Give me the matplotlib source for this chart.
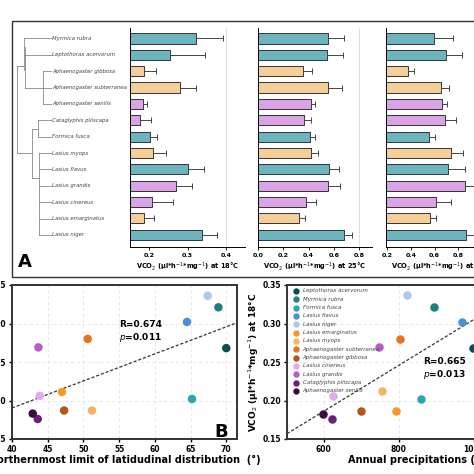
import numpy as np
import matplotlib.pyplot as plt
from matplotlib.patches import Rectangle

# ---- data ----
species = ["Myrmica rubra", "Leptothorax acervorum", "Aphaenogaster gibbosa",
           "Aphaenogaster subterranea", "Aphaenogaster senilis", "Cataglyphis piliscapa",
           "Formica fusca", "Lasius myops", "Lasius flavus", "Lasius grandis",
           "Lasius cinereus", "Lasius emarginatus", "Lasius niger"]
bar_group = ["t", "t", "o", "o", "p", "p", "t", "o", "t", "p", "p", "o", "t"]
v18 = [0.322, 0.254, 0.187, 0.280, 0.183, 0.175, 0.202, 0.210, 0.302, 0.270, 0.207, 0.187, 0.337]
e18 = [0.071, 0.092, 0.032, 0.043, 0.012, 0.031, 0.018, 0.034, 0.041, 0.041, 0.056, 0.026, 0.041]
v25 = [0.556, 0.543, 0.358, 0.551, 0.416, 0.363, 0.408, 0.416, 0.561, 0.556, 0.379, 0.326, 0.678]
e25 = [0.119, 0.125, 0.066, 0.111, 0.034, 0.053, 0.045, 0.061, 0.077, 0.093, 0.077, 0.048, 0.061]
v32 = [0.594, 0.693, 0.375, 0.650, 0.660, 0.690, 0.550, 0.738, 0.715, 0.856, 0.614, 0.560, 0.860]
e32 = [0.163, 0.138, 0.050, 0.070, 0.040, 0.087, 0.050, 0.102, 0.141, 0.071, 0.121, 0.054, 0.070]

sc_names = ["Leptothorax acervorum", "Myrmica rubra", "Formica fusca", "Lasius flavus",
            "Lasius niger", "Lasius emarginatus", "Lasius myops", "Aphaenogaster subterranea",
            "Aphaenogaster gibbosa", "Lasius cinereus", "Lasius grandis",
            "Cataglyphis piliscapa", "Aphaenogaster senilis"]
sc_colors = ["#0e4d4f", "#1f7f80", "#2aa7ae", "#4a90d9", "#a9c9ee", "#f39a2b", "#f4b563",
             "#e8731f", "#b3561a", "#e2a8ee", "#b65cc9", "#6b1e7f", "#3a0d3f"]
sc_vco2_b = [0.268, 0.321, 0.202, 0.302, 0.336, 0.211, 0.187, 0.280, 0.187, 0.206, 0.269, 0.176, 0.183]
latitude = [70.0, 68.9, 65.2, 64.5, 67.4, 47.0, 51.2, 50.6, 47.3, 43.9, 43.7, 43.6, 42.9]
sc_vco2_c = [0.268, 0.321, 0.202, 0.302, 0.337, 0.187, 0.212, 0.280, 0.187, 0.206, 0.269, 0.176, 0.183]
precip = [998, 895, 860, 969, 822, 793, 756, 804, 699, 625, 748, 622, 598]

bar_colors = {"t": "#6db5be", "o": "#f5cf98", "p": "#daa3e6"}
W = H = 474.0

fig = plt.figure(figsize=(4.74, 4.74), dpi=100)


def px_axes(x0, y0, x1, y1):
    return fig.add_axes([x0 / W, 1 - y1 / H, (x1 - x0) / W, (y1 - y0) / H])


# panel A frame
fig.patches.append(Rectangle((12 / W, 1 - 277 / H), 480 / W, 256 / H, transform=fig.transFigure,
                             fill=False, ec="#333333", lw=1.0))
fig.text(18 / W, 1 - 262 / H, "A", fontsize=13, fontweight="bold", va="center")

# tree + names
tax = px_axes(14, 28, 130, 244)
tax.set_xlim(0, 116)
tax.set_ylim(12.55, -0.64)
tax.axis("off")
lc = "#888888"
def hl(y, x0, x1): tax.plot([x0, x1], [y, y], color=lc, lw=0.6)
def vl(x, y0, y1): tax.plot([x, x], [y0, y1], color=lc, lw=0.6)
# myrmicinae clade
hl(0, 10, 37); hl(1, 10, 37); vl(10, 0, 1.9)
hl(2, 29, 37); hl(3, 29, 37); hl(4, 29, 37); vl(29, 2, 4)
hl(3, 11, 29); vl(11, 0.5, 3)
hl(1.7, 3, 11)
# formicinae clade
hl(5, 24, 37); hl(6, 24, 37); vl(24, 5, 6)
hl(5.5, 18, 24)
hl(7, 25, 37); hl(8, 25, 37); hl(9, 25, 37); hl(10, 25, 37); hl(11, 25, 37); hl(12, 25, 37)
vl(25, 7, 12)
hl(8.5, 18, 25); vl(18, 5.5, 8.5)
hl(7, 3, 18); vl(3, 1.7, 7)
for i, s in enumerate(species):
    tax.text(38, i, s, fontsize=3.9, style="italic", color="#444444", va="center")

ylab = "VCO$_2$ (µl*h$^{-1}$*mg$^{-1}$) at "
panels = [((130, 245), (0.15, 0.45), [0.2, 0.3, 0.4], v18, e18, "18°C", 0.4),
          ((258, 372), (0.0, 0.9), [0.0, 0.2, 0.4, 0.6, 0.8], v25, e25, "25°C", 0.8),
          ((386, 500), (0.19, 1.15), [0.2, 0.4, 0.6, 0.8], v32, e32, "32°C", 1.0)]
ypos = np.arange(len(species))
for (x0, x1), xl, ticks, vals, errs, temp, gx in panels:
    ax = px_axes(x0, 28, x1, 247)
    ax.axvline(gx, color="#dddddd", lw=0.7, zorder=0)
    ax.barh(ypos, np.array(vals) - xl[0], left=xl[0], height=0.62,
            color=[bar_colors[g] for g in bar_group], edgecolor="#333333", lw=0.7)
    ax.errorbar(vals, ypos, xerr=[np.zeros(len(vals)), errs], fmt="none",
                ecolor="#444444", elinewidth=0.7, capsize=2, capthick=0.7)
    ax.set_xlim(*xl)
    ax.set_ylim(12.75, -0.64)
    ax.set_yticks([])
    ax.set_xticks(ticks)
    ax.set_xticklabels([f"{t:.1f}" for t in ticks], fontsize=4.5, fontweight="bold")
    ax.tick_params(axis="x", length=2, width=0.6, pad=2)
    for s in ["top", "right"]:
        ax.spines[s].set_visible(False)
    ax.spines["left"].set_linewidth(0.7)
    ax.spines["bottom"].set_linewidth(0.7)
    ax.set_xlabel(ylab + temp, fontsize=4.8, fontweight="bold", labelpad=2)


def style_scatter(ax):
    ax.grid(True, ls=(0, (4, 3)), color="#e4e4e4", lw=0.6)
    ax.set_axisbelow(True)
    for s in ax.spines.values():
        s.set_linewidth(1.4)
        s.set_color("#333333")
    ax.tick_params(labelsize=5.5, width=1.0, length=2.5, pad=1.5)
    for lab in ax.get_xticklabels() + ax.get_yticklabels():
        lab.set_fontweight("bold")


# panel B
bx = px_axes(12, 285, 237, 439)
bx.scatter(latitude, sc_vco2_b, c=sc_colors, s=26, zorder=3)
k, b = np.polyfit(latitude, sc_vco2_b, 1)
xx = np.array([40, 72])
bx.plot(xx, k * xx + b, ls=(0, (2.5, 1.5)), color="#333333", lw=0.9)
bx.set_xlim(40, 71.5)
bx.set_ylim(0.15, 0.35)
bx.set_xticks(range(40, 75, 5))
bx.set_yticks([0.15, 0.20, 0.25, 0.30, 0.35])
bx.set_yticklabels(["0.15", "0.20", "0.25", "0.30", "0.35"])
style_scatter(bx)
bx.set_xlabel("Northernmost limit of latidudinal distribution  (°)", fontsize=7,
              fontweight="bold", labelpad=1)
bx.text(55, 0.279, "R=0.674\n$\\bf{\\it{p}}$=0.011", fontsize=6.5, fontweight="bold", linespacing=1.2)
bx.text(68.3, 0.153, "B", fontsize=13, fontweight="bold")

# panel C
cx = px_axes(287, 285, 560, 439)
for n, c, xv, yv in zip(sc_names, sc_colors, precip, sc_vco2_c):
    cx.scatter(xv, yv, color=c, s=26, zorder=3, label=n)
k, b = np.polyfit(precip, sc_vco2_c, 1)
xx = np.array([502, 1230])
cx.plot(xx, k * xx + b, ls=(0, (2.5, 1.5)), color="#333333", lw=0.9)
cx.set_xlim(502, 1230)
cx.set_ylim(0.15, 0.35)
cx.set_xticks([600, 800, 1000])
cx.set_yticks([0.15, 0.20, 0.25, 0.30, 0.35])
cx.set_yticklabels(["0.15", "0.20", "0.25", "0.30", "0.35"])
style_scatter(cx)
cx.set_xlabel("Annual precipitations (mm)", fontsize=7, fontweight="bold", labelpad=1)
cx.set_ylabel("VCO$_2$ (µl*h$^{-1}$*mg$^{-1}$) at 18°C", fontsize=6.5, fontweight="bold", labelpad=1)
cx.text(865, 0.231, "R=0.665\n$\\bf{\\it{p}}$=0.013", fontsize=6.5, fontweight="bold", linespacing=1.2)
leg = cx.legend(loc="upper left", fontsize=4.0, frameon=False, handletextpad=0.2,
                labelspacing=0.6, borderaxespad=0.2, markerscale=0.7)
for t in leg.get_texts():
    t.set_style("italic")
    t.set_color("#444444")

fig.savefig("out.png", dpi=100)
